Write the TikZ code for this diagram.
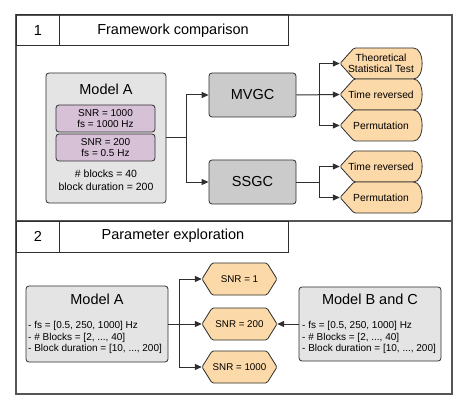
\documentclass[tikz,border=0pt]{standalone}
\usepackage{fontspec}
\setmainfont{Liberation Sans}
\usetikzlibrary{arrows.meta,calc}

\definecolor{lightbox}{HTML}{E4E4E4}
\definecolor{midbox}{HTML}{CBCBCB}
\definecolor{mauve}{HTML}{D7C1D7}
\definecolor{peach}{HTML}{FCD9A8}
\definecolor{edge}{HTML}{2E2E2E}
\definecolor{framegray}{HTML}{555555}

% display shape: pointed left end, rounded right end
\newcommand{\dispnode}[3]{%
  \draw[dispshape] ($(#2)+(-41,0)$) -- ($(#2)+(-27,-15.5)$) -- ($(#2)+(31,-15.5)$)
    .. controls ($(#2)+(44,-15.5)$) and ($(#2)+(44,15.5)$) .. ($(#2)+(31,15.5)$)
    -- ($(#2)+(-27,15.5)$) -- cycle;
  \node[disptext] (#1) at (#2) {#3};}

% hexagon
\newcommand{\hexnode}[3]{%
  \draw[hexshape] ($(#2)+(-37.5,0)$) -- ($(#2)+(-27.5,-16)$) -- ($(#2)+(27.5,-16)$)
    -- ($(#2)+(37.5,0)$) -- ($(#2)+(27.5,16)$) -- ($(#2)+(-27.5,16)$) -- cycle;
  \node[hextext] (#1) at (#2) {#3};}

\begin{document}
\begin{tikzpicture}[x=1pt,y=-1pt,
  bigfont/.style={font=\fontsize{14.5}{17}\selectfont},
  box/.style={draw=edge,line width=0.8pt,rounded corners=3pt,fill=lightbox},
  method/.style={draw=edge,line width=0.8pt,rounded corners=3pt,fill=midbox,
    minimum width=87pt,minimum height=44pt,bigfont},
  setting/.style={draw=edge,line width=0.8pt,rounded corners=3pt,fill=mauve,
    minimum width=99pt,minimum height=27pt,align=center,inner sep=0pt,
    font=\fontsize{10}{11.5}\selectfont},
  dispshape/.style={draw=edge,line width=0.8pt,fill=peach,rounded corners=1.5pt},
  disptext/.style={minimum width=82pt,minimum height=31pt,inner sep=0pt,
    align=center,font=\fontsize{10.3}{11.5}\selectfont},
  hexshape/.style={draw=edge,line width=0.8pt,fill=peach,rounded corners=1.5pt},
  hextext/.style={minimum width=75pt,minimum height=32pt,inner sep=0pt,
    font=\fontsize{9.8}{11}\selectfont},
  conn/.style={draw=edge,line width=1pt},
  arr/.style={conn,-{Triangle[length=7pt,width=6pt]}}]
\useasboundingbox (0,0) rectangle (474,417);

% frame and headers
\draw[line width=1.2pt,draw=framegray] (16,15) rectangle (452,394);
\draw[line width=1.2pt,draw=framegray] (16,221) -- (452,221);
\draw[line width=1pt,draw=edge] (16,15) rectangle (288,46);
\draw[line width=1pt,draw=edge] (59,15) -- (59,46);
\draw[line width=1pt,draw=edge] (16,221) rectangle (288,252);
\draw[line width=1pt,draw=edge] (59,221) -- (59,252);
\node[bigfont] (num1) at (38,30.5) {1};
\node[bigfont] (head1) at (173,30.5) {Framework comparison};
\node[bigfont] (num2) at (38,236) {2};
\node[bigfont] (head2) at (173,236) {Parameter exploration};

% section 1
\node[box,minimum width=120pt,minimum height=130pt] (modelA) at (106,138) {};
\node[bigfont] (modelAtitle) at (106,89) {Model A};
\node[setting] (set1) at (105.5,118.5) {SNR = 1000\\fs = 1000 Hz};
\node[setting] (set2) at (105.5,147.5) {SNR = 200\\fs = 0.5 Hz};
\node[align=center,font=\fontsize{10.5}{13}\selectfont] (blocks) at (106,180.5)
  {\# blocks = 40\\block duration = 200};

\node[method] (mvgc) at (252.5,95) {MVGC};
\node[method] (ssgc) at (252.5,182) {SSGC};

\dispnode{theo}{381,63.5}{Theoretical\\Statistical Test}
\dispnode{trev}{381,94.5}{Time reversed}
\dispnode{perm}{381,125.5}{Permutation}
\dispnode{trevb}{381,166.5}{Time reversed}
\dispnode{permb}{381,197.5}{Permutation}

\coordinate (splitA) at (186,138);
\draw[conn] (modelA.east) -- (splitA);
\draw[arr] (splitA) |- (mvgc.west);
\draw[arr] (splitA) |- (ssgc.west);

\coordinate (splitM) at (319,95);
\draw[arr] (mvgc.east) -- (trev.west);
\draw[arr] (splitM) |- (theo.west);
\draw[arr] (splitM) |- (perm.west);

\coordinate (splitS) at (319,182);
\draw[conn] (ssgc.east) -- (splitS);
\draw[arr] (splitS) |- (trevb.west);
\draw[arr] (splitS) |- (permb.west);

% section 2
\node[box,minimum width=142pt,minimum height=76pt] (modelA2) at (97,324) {};
\node[bigfont] (modelA2title) at (97,299) {Model A};
\node[anchor=west,align=left,inner sep=0pt,font=\fontsize{10}{11.5}\selectfont]
  (paramsA) at (28,337.5)
  {- fs = [0.5, 250, 1000] Hz\\- \# Blocks = [2, ..., 40]\\- Block duration = [10, ..., 200]};

\node[box,minimum width=142pt,minimum height=74pt] (modelBC) at (370,324) {};
\node[bigfont] (modelBCtitle) at (370,299) {Model B and C};
\node[anchor=west,align=left,inner sep=0pt,font=\fontsize{10}{11.5}\selectfont]
  (paramsBC) at (302,337.5)
  {- fs = [0.5, 250, 1000] Hz\\- \# Blocks = [2, ..., 40]\\- Block duration = [10, ..., 200]};

\hexnode{snr1}{239.5,279}{SNR = 1}
\hexnode{snr200}{239.5,324}{SNR = 200}
\hexnode{snr1000}{239.5,367}{SNR = 1000}

\coordinate (splitP) at (179,324);
\draw[arr] (modelA2.east) -- (snr200.west);
\draw[arr] (splitP) |- (snr1.west);
\draw[arr] (splitP) |- (snr1000.west);
\draw[arr] (modelBC.west) -- (snr200.east);
\end{tikzpicture}
\end{document}
